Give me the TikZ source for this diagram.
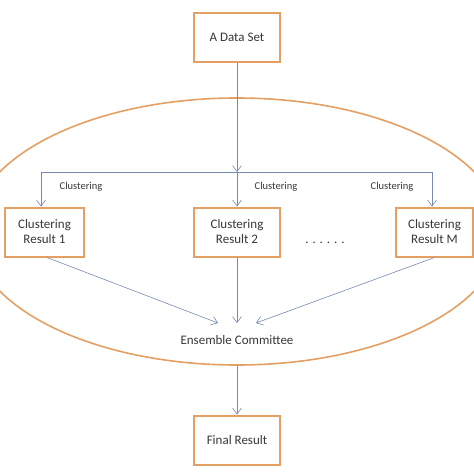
\documentclass[tikz,border=0pt]{standalone}
\usepackage{fontspec}
\setmainfont{Carlito}
\usetikzlibrary{arrows.meta,shapes.geometric}
\definecolor{boxorange}{RGB}{228,160,98}
\definecolor{flowblue}{RGB}{118,138,175}
\definecolor{textgray}{RGB}{55,55,55}
\tikzset{
    box/.style={draw=boxorange, line width=2pt, fill=white, align=center,
        text=textgray, font=\fontsize{13}{15}\selectfont, inner sep=0pt,
        minimum height=49pt},
    flow/.style={draw=flowblue, line width=0.6pt,
        -{Straight Barb[length=6pt,width=9pt]}},
    lbl/.style={text=textgray, font=\fontsize{10.5}{12}\selectfont, inner sep=0pt}
}
\begin{document}
\begin{tikzpicture}[x=1pt,y=-1pt]
    \useasboundingbox (0,0) rectangle (474,474);
    \clip (0,0) rectangle (474,474);
    % ensemble ellipse
    \node[ellipse, draw=boxorange, line width=1.6pt, minimum width=530pt,
        minimum height=267pt, inner sep=0pt] (ens) at (237,231.5) {};
    \node[text=textgray, font=\fontsize{13}{15}\selectfont] (committee) at (237,340) {Ensemble Committee};

    % boxes
    \node[box, minimum width=86pt] (data) at (237,37) {A Data Set};
    \node[box, minimum width=79pt] (res1) at (44.5,232) {Clustering\\Result 1};
    \node[box, minimum width=86pt] (res2) at (237,232) {Clustering\\Result 2};
    \node[box, minimum width=77pt] (resM) at (434.5,232) {Clustering\\Result M};
    \node[box, minimum width=86pt] (final) at (237,440) {Final Result};
    \node[text=textgray, font=\fontsize{13}{15}\selectfont] (dots) at (325,243) {. . . . . .};

    % splitting
    \coordinate (split) at (237,172);
    \coordinate (s1) at (41,172); \coordinate (sM) at (432,172);
    \draw[flow] (data) -- (split);
    \draw[draw=flowblue, line width=0.6pt] (s1) -- (sM);
    \draw[flow] (s1) -- (s1 |- res1.north);
    \draw[flow] (split) -- (res2);
    \draw[flow] (sM) -- (sM |- resM.north);
    \node[lbl] (c1) at (81,187) {Clustering};
    \node[lbl] (c2) at (276,187) {Clustering};
    \node[lbl] (cM) at (392,187) {Clustering};

    % combining
    \coordinate (e1) at (218,323); \coordinate (e2) at (237,323); \coordinate (eM) at (256,323);
    \draw[flow] ([xshift=2.5pt]res1.south) -- (e1);
    \draw[flow] (res2) -- (e2);
    \draw[flow] (resM.south) -- (eM);
    \draw[flow] (ens.south) -- (final);
\end{tikzpicture}
\end{document}
